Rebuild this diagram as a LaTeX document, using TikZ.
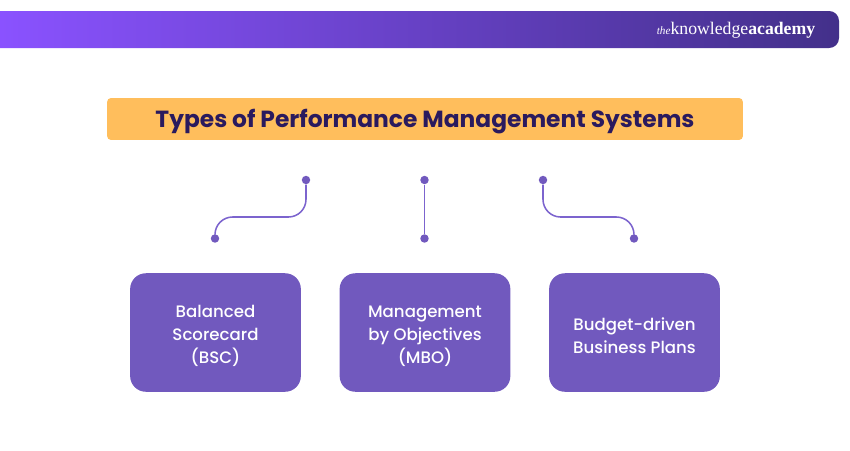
\documentclass[tikz,border=0pt]{standalone}
\usepackage{fontspec}
\setmainfont{Poppins}
\newfontfamily\boxfont{Poppins Medium}
\newfontfamily\logofont{Liberation Serif}
\definecolor{barleft}{HTML}{8A52FF}
\definecolor{barright}{HTML}{43308A}
\definecolor{titlefill}{HTML}{FFBE5C}
\definecolor{titleink}{HTML}{2A1A5E}
\definecolor{boxfill}{HTML}{7159BE}
\definecolor{linkink}{HTML}{7C64CE}
\newcommand{\lowered}{\rule{0pt}{14pt}}
\tikzset{
  sysbox/.style={shape=rectangle,fill=boxfill,text=white,align=center,rounded corners=16pt*0.7,minimum width=121.4pt,minimum height=84.3pt,inner sep=0pt,font=\boxfont\fontsize{11.8}{16.4}\selectfont},
  titlebox/.style={shape=rectangle,fill=titlefill,text=titleink,rounded corners=2.5pt,minimum width=452pt,minimum height=29.7pt,inner sep=0pt,text depth=1pt,font=\fontsize{16.6}{20}\selectfont\bfseries},
  dot/.style={shape=circle,fill=boxfill,minimum size=6pt,inner sep=0pt},
  link/.style={draw=linkink,line width=1.1pt,rounded corners=12.5pt},
}
\begin{document}
\begin{tikzpicture}[x=0.025cm,y=-0.025cm]
\useasboundingbox (0,0) rectangle (850,450);

% top bar
\path [left color=barleft,right color=barright] (0,11) [rounded corners=7pt] -- (839,11) -- (839,48) [sharp corners] -- (0,48) -- cycle;
\node[text=white,inner sep=0pt,font=\logofont\fontsize{12.6}{14}\selectfont] (logo) at (736,30) {{\itshape\fontsize{8}{10}\selectfont the}knowledge\textbf{academy}};

\node[titlebox] (title) at (425,119) {Types of Performance Management Systems};

\node[dot] (a1) at (306,180) {};
\node[dot] (b1) at (215,238.5) {};
\node[dot] (a2) at (424.5,180) {};
\node[dot] (b2) at (424.5,238.5) {};
\node[dot] (a3) at (543,180) {};
\node[dot] (b3) at (634,238.5) {};
\coordinate (j1) at (260,217);
\coordinate (j3) at (588,217);

\path [link] (a1) |- (j1) -| (b1);
\path [link] (a2) -- (b2);
\path [link] (a3) |- (j3) -| (b3);

\node[sysbox] (bsc) at (215.5,332.5) {\lowered Balanced\\Scorecard\\(BSC)};
\node[sysbox] (mbo) at (425,332.5) {\lowered Management\\by Objectives\\(MBO)};
\node[sysbox] (bdg) at (634.5,332.5) {\lowered Budget-driven\\Business Plans};
\end{tikzpicture}
\end{document}
